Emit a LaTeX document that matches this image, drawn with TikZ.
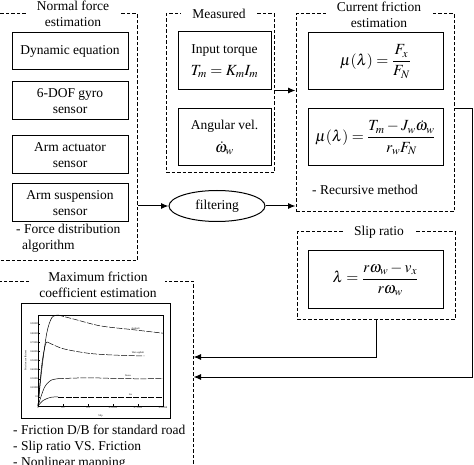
\documentclass[tikz,border=0pt]{standalone}
\usepackage{amsmath,amssymb}
\usepackage{mathptmx}
\usepackage[no-math]{fontspec}
\setmainfont{Liberation Serif}
\usepackage{tikz}
\usetikzlibrary{arrows,arrows.meta,calc,positioning}
\usetikzlibrary{shapes.geometric}
\newcommand{\frcsize}{\fontsize{13.5}{16}\selectfont}
\newcommand{\eqsize}{\fontsize{15.5}{18}\selectfont}
\newcommand{\plotsize}{\fontsize{2.6}{3}\selectfont}

\begin{document}
\begin{tikzpicture}[
    x=1pt, y=-1pt,
    >={Latex[length=7.5pt,width=6pt]},
    every node/.style={font=\frcsize},
    group/.style={rectangle, draw, line width=1pt, dash pattern=on 3.5pt off 2pt, inner sep=0},
    grouptitle/.style={fill=white, align=center, inner xsep=11pt, inner ysep=1pt},
    unit/.style={rectangle, draw, line width=1pt, inner sep=0, align=center},
    note/.style={align=left, anchor=west, inner sep=0},
    link/.style={draw, line width=1pt, ->},
    curve/.style={line width=0.5pt, smooth},
    tail/.style={line width=0.5pt, smooth, dash pattern=on 6pt off 1.5pt}]
\useasboundingbox (0,0) rectangle (474,465);

% normal force
\node (nf) [group, minimum width=142pt, minimum height=247pt] at (66,137.5) {};
\node [grouptitle] at (73,14) {Normal force\\estimation};
\node (dyn)  [unit, minimum width=116pt, minimum height=37pt] at (70,51.5) {Dynamic equation};
\node (gyro) [unit, minimum width=116pt, minimum height=38pt] at (70,101) {6-DOF gyro\\sensor};
\node (act)  [unit, minimum width=116pt, minimum height=38pt] at (70,155) {Arm actuator\\sensor};
\node (susp) [unit, minimum width=116pt, minimum height=38pt] at (70,203) {Arm suspension\\sensor};
\node (fdist) [note] at (16,238) {- Force distribution\\\hspace*{6pt}algorithm};

% measured
\node (ms) [group, minimum width=108pt, minimum height=159pt] at (220,93.5) {};
\node [grouptitle] at (219,14) {Measured};
\node (torque) [unit, minimum width=93pt, minimum height=58pt] at (224.5,61) {Input torque\\[6pt]{\eqsize$T_m = K_m I_m$}};
\node (angvel) [unit, minimum width=93pt, minimum height=57pt] at (224.5,137.5) {Angular vel.\\[7pt]{\eqsize$\dot{\omega}_w$}};

\node (filt) [ellipse, draw, line width=1pt, minimum width=96pt, minimum height=31pt, inner sep=0] at (217,206) {filtering};

% current friction
\node (cf) [group, minimum width=158pt, minimum height=198pt] at (375,113) {};
\node [grouptitle] at (379,15) {Current friction\\estimation};
\node (mu1) [unit, minimum width=135pt, minimum height=57pt] at (375.5,61.5) {\eqsize$\displaystyle\mu(\lambda) = \frac{F_x}{F_N}$};
\node (mu2) [unit, minimum width=135pt, minimum height=57pt] at (375.5,137.5) {\eqsize$\displaystyle\mu(\lambda) = \frac{T_m - J_w\dot{\omega}_w}{r_w F_N}$};
\node (recur) [note] at (312,190) {- Recursive method};

% slip ratio
\node (sr) [group, minimum width=158pt, minimum height=87pt] at (376,275.5) {};
\node [grouptitle] at (379,232) {Slip ratio};
\node (slip) [unit, minimum width=135pt, minimum height=57pt] at (375.5,279.5) {\eqsize$\displaystyle\lambda = \frac{r\omega_w - v_x}{r\omega_w}$};

% maximum friction
\node (mf) [group, minimum width=198pt, minimum height=199pt] at (94,380.5) {};
\node [grouptitle, inner xsep=8pt] at (98,284.5) {Maximum friction\\coefficient estimation};
\node (chart) [unit, minimum width=149pt, minimum height=115pt] at (95.5,360.5) {};
\node (fdb) [note] at (13,447) {- Friction D/B for standard road\\- Slip ratio VS. Friction\\- Nonlinear mapping};

\begin{scope}[shift={(38,406)}, x=125pt, y=91pt]
  \draw[line width=0.4pt] (0,0) rectangle (1,1);
  \foreach \t in {0,0.1,...,1.0}
    \draw[line width=0.3pt] (0,\t) -- (0.015,\t) node[left=1pt, inner sep=0, font=\plotsize] {\t};
  \foreach \t in {0,0.2,...,1.0}
    \draw[line width=0.3pt] (\t,0) -- (\t,0.02) node[below=2.5pt, inner sep=0, font=\plotsize] {\t};
  \node [font=\plotsize, below=5pt] at (0.5,0) {Slip};
  \node [font=\plotsize, rotate=90] at (-0.1,0.5) {Friction coefficient};
  \draw[curve] plot coordinates {(0,0) (0.03,0.4) (0.07,0.8) (0.11,0.97) (0.16,1.0)};
  \draw[tail] plot coordinates {(0.16,1.0) (0.3,0.95) (0.5,0.88) (0.75,0.84) (1,0.8)};
  \draw[curve] plot coordinates {(0,0) (0.03,0.45) (0.06,0.68) (0.08,0.7)};
  \draw[tail] plot coordinates {(0.08,0.7) (0.2,0.63) (0.4,0.58) (0.6,0.56) (0.85,0.55)};
  \draw[curve] plot coordinates {(0,0) (0.05,0.2) (0.1,0.28) (0.16,0.3)};
  \draw[tail] plot coordinates {(0.16,0.3) (0.4,0.31) (0.7,0.3) (1,0.3)};
  \draw[curve] plot coordinates {(0,0) (0.04,0.06) (0.1,0.095) (0.16,0.1)};
  \draw[tail] plot coordinates {(0.16,0.1) (0.5,0.1) (1,0.1)};
  \node [font=\plotsize] at (0.78,0.85) {Asphalt};
  \node [font=\plotsize] at (0.8,0.58) {Wet asphalt};
  \node [font=\plotsize] at (0.72,0.33) {Snow};
  \node [font=\plotsize] at (0.74,0.13) {Ice};
\end{scope}

% connectors
\path[link] (nf.east |- filt.west) -- (filt.west);
\path[link] (filt.east) -- (filt.east -| cf.west);
\path[link] (ms.east |- torque.south) -- (torque.south -| cf.west);
\coordinate (rim) at (472,377);
\coordinate (sbend) at (376,357);
\path[link] (cf.east |- mu2.north) -| (rim) -- (rim -| mf.east);
\path[link] (sr.south) |- (sbend -| mf.east);

\end{tikzpicture}
\end{document}
